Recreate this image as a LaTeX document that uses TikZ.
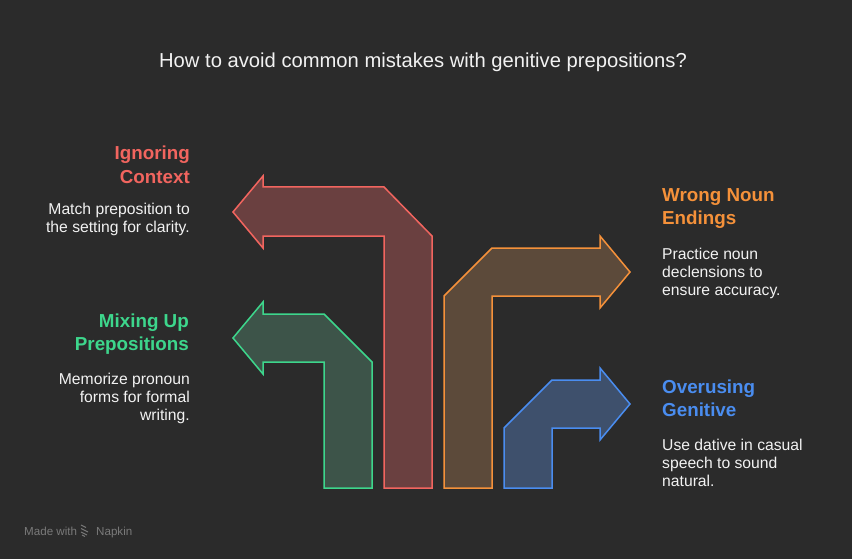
\documentclass[tikz,border=0pt]{standalone}
\usepackage{fontspec}
\setmainfont{Liberation Sans}
\usetikzlibrary{positioning}
\definecolor{bgdark}{RGB}{43,43,43}
\definecolor{txtwhite}{RGB}{242,242,242}
\definecolor{footgray}{RGB}{122,122,122}
\definecolor{ignred}{RGB}{242,101,95}
\definecolor{ignfill}{RGB}{106,64,64}
\definecolor{mixgreen}{RGB}{61,214,140}
\definecolor{mixfill}{RGB}{61,84,73}
\definecolor{endorange}{RGB}{245,145,58}
\definecolor{endfill}{RGB}{92,74,58}
\definecolor{genblue}{RGB}{74,141,240}
\definecolor{genfill}{RGB}{62,80,108}

\begin{document}
\begin{tikzpicture}[
  x=1pt,y=-1pt,
  title/.style={font=\fontsize{20.2}{24}\selectfont,text=txtwhite,inner sep=0pt,anchor=base},
  head/.style={font=\bfseries\fontsize{18.8}{23.5}\selectfont,inner sep=0pt},
  desc/.style={font=\fontsize{15.7}{18}\selectfont,text=txtwhite,inner sep=0pt},
  lft/.style={align=right,anchor=base east},
  rgt/.style={align=left,anchor=base west},
  bentarrow/.style={line width=1.5pt,line join=miter},
  foot/.style={font=\fontsize{11.6}{13}\selectfont,text=footgray,inner sep=0pt,anchor=base west}
]
\fill[bgdark] (0,0) rectangle (852,559);
\useasboundingbox (0,0) rectangle (852,559);

\node[title] (ttl) at (423,67.3) {How to avoid common mistakes with genitive prepositions?};

% bent arrows, left pair points left, right pair points right
\draw[bentarrow,draw=ignred,fill=ignfill] (233,212) -- (263,176) -- (263,187) -- (384,187)
  -- (432,236) -- (432,488) -- (384,488) -- (384,236) -- (263,236) -- (263,248) -- cycle;
\draw[bentarrow,draw=mixgreen,fill=mixfill] (233,338) -- (263,302) -- (263,314) -- (324,314)
  -- (372,362) -- (372,488) -- (324,488) -- (324,362) -- (263,362) -- (263,374) -- cycle;
\draw[bentarrow,draw=endorange,fill=endfill] (444,488) -- (444,296) -- (492,248) -- (600,248)
  -- (600,236) -- (630,272) -- (600,308) -- (600,296) -- (492,296) -- (492,488) -- cycle;
\draw[bentarrow,draw=genblue,fill=genfill] (504,488) -- (504,428) -- (552,380) -- (600,380)
  -- (600,368) -- (630,404) -- (600,440) -- (600,428) -- (552,428) -- (552,488) -- cycle;

% left labels (base = last line)
\node[head,lft,text=ignred] (ign) at (190,183.3) {Ignoring\\Context};
\node[desc,lft] (ignD) at (190,232.3) {Match preposition to\\the setting for clarity.};
\node[head,lft,text=mixgreen] (mix) at (189,350.7) {Mixing Up\\Prepositions};
\node[desc,lft] (mixD) at (190,420.7) {Memorize pronoun\\forms for formal\\writing.};

% right labels
\node[head,rgt,text=endorange] (end) at (662,225) {Wrong Noun\\Endings};
\node[desc,rgt] (endD) at (662,295) {Practice noun\\declensions to\\ensure accuracy.};
\node[head,rgt,text=genblue] (gen) at (662,416.7) {Overusing\\Genitive};
\node[desc,rgt] (genD) at (662,486.7) {Use dative in casual\\speech to sound\\natural.};

% footer
\node[foot] (made) at (24,535) {Made with};
\coordinate (logo) at (81,535);
\draw[footgray,line width=1.1pt] (logo) ++(0,-10) -- ++(5,2.5)
  (logo) ++(0,-6.5) -- ++(7,3.5) (logo) ++(0,-3) -- ++(6,3) (logo) ++(1,0) -- ++(3,1.5);
\node[foot] (nap) at (96,535) {Napkin};
\end{tikzpicture}
\end{document}
